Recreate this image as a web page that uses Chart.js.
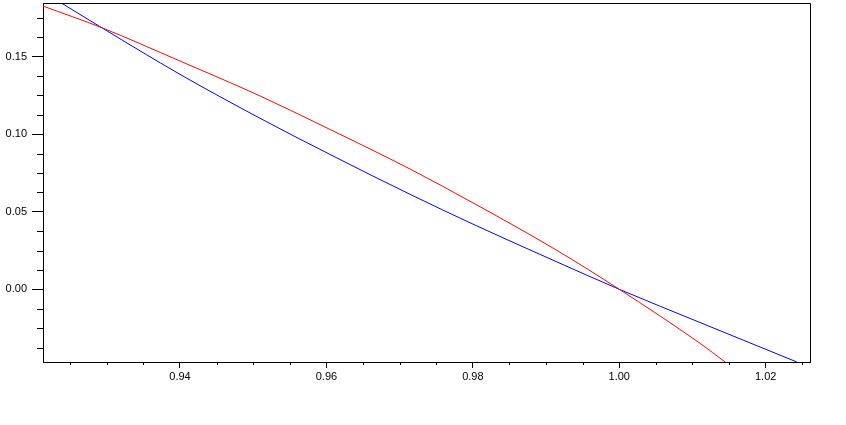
<!DOCTYPE html>
<html><head><meta charset="utf-8">
<script src="https://cdn.jsdelivr.net/npm/chart.js@4"></script>
<style>html,body{margin:0;padding:0;background:#fff;}</style>
</head><body>
<canvas id="c" width="846" height="425"></canvas>
<script>
// Data
const redX  = [0.92129, 0.92930, 0.94000, 0.95093, 0.96049, 0.97142, 0.98029, 0.99122, 1.00000, 1.01103, 1.01444];
const redY  = [0.1825, 0.1686, 0.1471, 0.1246, 0.1030, 0.0775, 0.0550, 0.0258, 0.0000, -0.0348, -0.0468];
const blueX = [0.92388, 0.92930, 0.94000, 0.95093, 0.96049, 0.97142, 0.98029, 0.99122, 1.00000, 1.01103, 1.02424];
const blueY = [0.1842, 0.1686, 0.1385, 0.1102, 0.0869, 0.0612, 0.0414, 0.0182, 0.0000, -0.0214, -0.0468];

// Axis ranges and tick values
const xRange = [0.92129, 1.02605];
const yRange = [-0.04684, 0.18448];
const xMajorTicks = [0.94, 0.96, 0.98, 1.00, 1.02];
const xMinorTicks = [0.925, 0.93, 0.935, 0.945, 0.95, 0.955, 0.965, 0.97, 0.975, 0.985, 0.99, 0.995, 1.005, 1.01, 1.015, 1.025];
const yMajorTicks = [0.00, 0.05, 0.10, 0.15];
const yMinorTicks = [-0.0375, -0.025, -0.0125, 0.0125, 0.025, 0.0375, 0.0625, 0.075, 0.0875, 0.1125, 0.125, 0.1375, 0.1625, 0.175];

const toPts = (xs, ys) => xs.map((x, i) => ({x: x, y: ys[i]}));

const boxPlugin = {
  id: 'boxAndMinor',
  afterDraw(chart) {
    const ctx = chart.ctx, a = chart.chartArea;
    const xs = chart.scales.x, ys = chart.scales.y;
    ctx.save();
    ctx.strokeStyle = '#000';
    ctx.lineWidth = 1;
    ctx.beginPath();
    ctx.moveTo(Math.round(a.left) + 0.5, Math.round(a.top) + 0.5);
    ctx.lineTo(Math.round(a.right) + 0.5, Math.round(a.top) + 0.5);
    ctx.lineTo(Math.round(a.right) + 0.5, Math.round(a.bottom) + 0.5);
    xMinorTicks.forEach(v => {
      const p = Math.round(xs.getPixelForValue(v)) + 0.5;
      ctx.moveTo(p, Math.round(a.bottom));
      ctx.lineTo(p, Math.round(a.bottom) + 3);
    });
    yMinorTicks.forEach(v => {
      const p = Math.round(ys.getPixelForValue(v)) + 0.5;
      ctx.moveTo(Math.round(a.left) - 6, p);
      ctx.lineTo(Math.round(a.left), p);
    });
    ctx.stroke();
    ctx.restore();
  }
};

const fmt = v => Number(v).toFixed(2);

new Chart(document.getElementById('c'), {
  type: 'scatter',
  data: {
    datasets: [
      { data: toPts(redX, redY), borderColor: '#ff0000', backgroundColor: '#ff0000',
        showLine: true, borderWidth: 1, pointRadius: 0, cubicInterpolationMode: 'monotone' },
      { data: toPts(blueX, blueY), borderColor: '#0000ff', backgroundColor: '#0000ff',
        showLine: true, borderWidth: 1, pointRadius: 0, cubicInterpolationMode: 'monotone' }
    ]
  },
  options: {
    responsive: false,
    animation: false,
    devicePixelRatio: 1,
    layout: { padding: { left: 0, top: 3, right: 36, bottom: 0 } },
    plugins: { legend: { display: false }, tooltip: { enabled: false } },
    scales: {
      x: {
        type: 'linear', min: xRange[0], max: xRange[1],
        afterBuildTicks: s => { s.ticks = xMajorTicks.map(v => ({value: v})); },
        afterFit: s => { s.height = 63; s.paddingLeft = 0; s.paddingRight = 0; },
        grid: { drawOnChartArea: false, tickLength: 6, color: '#000', tickColor: '#000' },
        border: { display: true, color: '#000', width: 1 },
        ticks: { color: '#000', padding: 2, maxRotation: 0, autoSkip: false,
                 font: { family: 'Liberation Sans, Arial, sans-serif', size: 11 },
                 callback: v => fmt(v) }
      },
      y: {
        type: 'linear', min: yRange[0], max: yRange[1],
        afterBuildTicks: s => { s.ticks = yMajorTicks.map(v => ({value: v})); },
        afterFit: s => { s.width = 43; s.paddingTop = 0; s.paddingBottom = 0; },
        grid: { drawOnChartArea: false, tickLength: 11, color: '#000', tickColor: '#000' },
        border: { display: true, color: '#000', width: 1 },
        ticks: { color: '#000', padding: 5, autoSkip: false,
                 font: { family: 'Liberation Sans, Arial, sans-serif', size: 11 },
                 callback: v => fmt(v) }
      }
    }
  },
  plugins: [boxPlugin]
});
</script>
</body></html>
